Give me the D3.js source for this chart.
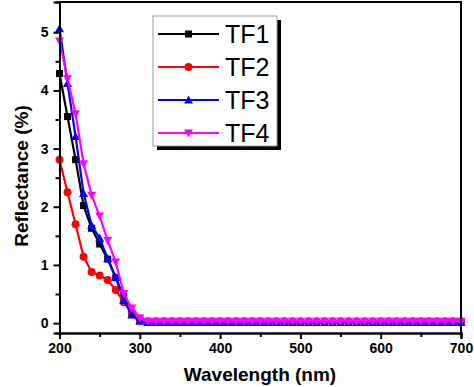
<!DOCTYPE html>
<html>
  <head>
    <meta charset="utf-8" />
    <script src="https://d3js.org/d3.v7.min.js"></script>
    <style>
      body { margin: 0; background: #fff; font-family: "Liberation Sans", Arial, sans-serif; }
      svg { display: block; }
    </style>
  </head>
  <body>
    <svg width="474" height="387"></svg>
    <script>
      // wavelengths 200..700 nm, 10 nm step
      const wavelengths = d3.range(200, 701, 10);

      const tf1 = [4.29, 3.55, 2.81, 2.02, 1.63, 1.36, 1.10, 0.78, 0.45, 0.17, 0.05,
        0.02, 0.02, 0.02, 0.02, 0.02, 0.02, 0.02, 0.02, 0.02, 0.02,
        0.02, 0.02, 0.02, 0.02, 0.02, 0.02, 0.02, 0.02, 0.02, 0.02,
        0.02, 0.02, 0.02, 0.02, 0.02, 0.02, 0.02, 0.02, 0.02, 0.02,
        0.02, 0.02, 0.02, 0.02, 0.02, 0.02, 0.02, 0.02, 0.02, 0.02];
      const tf2 = [2.81, 2.25, 1.70, 1.14, 0.88, 0.82, 0.74, 0.57, 0.36, 0.19, 0.08,
        0.03, 0.03, 0.03, 0.03, 0.03, 0.03, 0.03, 0.03, 0.03, 0.03,
        0.03, 0.03, 0.03, 0.03, 0.03, 0.03, 0.03, 0.03, 0.03, 0.03,
        0.03, 0.03, 0.03, 0.03, 0.03, 0.03, 0.03, 0.03, 0.03, 0.03,
        0.03, 0.03, 0.03, 0.03, 0.03, 0.03, 0.03, 0.03, 0.03, 0.03];
      const tf3 = [5.06, 4.12, 3.21, 2.23, 1.68, 1.46, 1.11, 0.79, 0.39, 0.14, 0.03,
        0.01, 0.01, 0.01, 0.01, 0.01, 0.01, 0.01, 0.01, 0.01, 0.01,
        0.01, 0.01, 0.01, 0.01, 0.01, 0.01, 0.01, 0.01, 0.01, 0.01,
        0.01, 0.01, 0.01, 0.01, 0.01, 0.01, 0.01, 0.01, 0.01, 0.01,
        0.01, 0.01, 0.01, 0.01, 0.01, 0.01, 0.01, 0.01, 0.01, 0.01];
      const tf4 = [4.85, 4.20, 3.60, 2.74, 2.20, 1.84, 1.42, 1.05, 0.51, 0.26, 0.09,
        0.03, 0.03, 0.03, 0.03, 0.03, 0.03, 0.03, 0.03, 0.03, 0.03,
        0.03, 0.03, 0.03, 0.03, 0.03, 0.03, 0.03, 0.03, 0.03, 0.03,
        0.03, 0.03, 0.03, 0.03, 0.03, 0.03, 0.03, 0.03, 0.03, 0.03,
        0.03, 0.03, 0.03, 0.03, 0.03, 0.03, 0.03, 0.03, 0.03, 0.03];

      const seriesNames = ["TF1", "TF2", "TF3", "TF4"];
      const seriesValues = [tf1, tf2, tf3, tf4];
      const seriesColors = ["#000000", "#ff0000", "#0000ff", "#ff00ff"];
      const seriesSymbols = ["square", "circle", "triangleUp", "triangleDown"];

      const xTicks = [200, 300, 400, 500, 600, 700];
      const yTicks = [0, 1, 2, 3, 4, 5];

      const svg = d3.select("svg");
      const plotLeft = 59.5, plotRight = 461, plotTop = 2, plotBottom = 333;

      const x = d3.scaleLinear().domain([200, 700]).range([plotLeft, plotRight]);
      const y = d3.scaleLinear().domain([-0.17, 5.52]).range([plotBottom, plotTop]);

      function symbolPath(kind, size) {
        const h = size / 2;
        if (kind === "square") return `M${-h},${-h}h${size}v${size}h${-size}Z`;
        if (kind === "circle") return d3.symbol(d3.symbolCircle, Math.PI * (h + 0.5) * (h + 0.5))();
        if (kind === "triangleUp") return `M0,${-h - 1}L${h + 1},${h}L${-h - 1},${h}Z`;
        return `M0,${h + 1}L${h + 1},${-h}L${-h - 1},${-h}Z`;
      }

      // series
      const line = d3.line().x(d => x(d[0])).y(d => y(d[1]));
      seriesValues.forEach((vals, i) => {
        const pts = wavelengths.map((w, j) => [w, vals[j]]);
        const g = svg.append("g");
        g.append("path").datum(pts)
          .attr("d", line)
          .attr("fill", "none")
          .attr("stroke", seriesColors[i])
          .attr("stroke-width", 2.2);
        g.selectAll("path.m").data(pts).enter().append("path")
          .attr("class", "m")
          .attr("transform", d => `translate(${x(d[0])},${y(d[1])})`)
          .attr("d", symbolPath(seriesSymbols[i], 7))
          .attr("fill", seriesColors[i]);
      });

      // axes
      const font = "bold 14px 'Liberation Sans', Arial, sans-serif";
      const xAxis = svg.append("g").attr("transform", `translate(0,${plotBottom})`)
        .call(d3.axisBottom(x).tickValues(xTicks).tickSize(6).tickPadding(4).tickFormat(d3.format("d")));
      const xMinor = svg.append("g").attr("transform", `translate(0,${plotBottom})`)
        .call(d3.axisBottom(x).tickValues(d3.range(250, 700, 100)).tickSize(4).tickFormat(""));
      const yAxis = svg.append("g").attr("transform", `translate(${plotLeft},0)`)
        .call(d3.axisLeft(y).tickValues(yTicks).tickSize(6).tickPadding(5).tickFormat(d3.format("d")));
      const yMinor = svg.append("g").attr("transform", `translate(${plotLeft},0)`)
        .call(d3.axisLeft(y).tickValues([0.5, 1.5, 2.5, 3.5, 4.5]).tickSize(4).tickFormat(""));
      [xAxis, xMinor, yAxis, yMinor].forEach(a => {
        a.select(".domain").attr("stroke", "#000").attr("stroke-width", 2);
        a.selectAll(".tick line").attr("stroke", "#000").attr("stroke-width", 2);
        a.selectAll(".tick text").style("font", font).attr("fill", "#000");
      });

      // frame (top and right)
      svg.append("path")
        .attr("d", `M${plotLeft},${plotTop}H${plotRight}V${plotBottom}`)
        .attr("fill", "none").attr("stroke", "#000").attr("stroke-width", 2);

      // axis titles
      svg.append("text")
        .attr("x", 260).attr("y", 381)
        .attr("text-anchor", "middle")
        .style("font", "bold 19px 'Liberation Sans', Arial, sans-serif")
        .text("Wavelength (nm)");
      svg.append("text")
        .attr("transform", "translate(21,176) rotate(-90)")
        .attr("text-anchor", "middle")
        .attr("dy", "0.35em")
        .style("font", "bold 19px 'Liberation Sans', Arial, sans-serif")
        .text("Reflectance (%)");

      // legend
      const lg = svg.append("g");
      lg.append("rect").attr("x", 157).attr("y", 20).attr("width", 124).attr("height", 130).attr("fill", "#000");
      lg.append("rect").attr("x", 153).attr("y", 16).attr("width", 124).attr("height", 130)
        .attr("fill", "#fff").attr("stroke", "#999").attr("stroke-width", 1);
      seriesNames.forEach((name, i) => {
        const ry = 34 + i * 33;
        lg.append("line").attr("x1", 158).attr("x2", 219).attr("y1", ry).attr("y2", ry)
          .attr("stroke", seriesColors[i]).attr("stroke-width", 2.2);
        lg.append("path").attr("transform", `translate(188.5,${ry})`)
          .attr("d", symbolPath(seriesSymbols[i], 7)).attr("fill", seriesColors[i]);
        lg.append("text").attr("x", 225).attr("y", ry + 9)
          .style("font", "25px 'Liberation Sans', Arial, sans-serif")
          .text(name);
      });
    </script>
  </body>
</html>
